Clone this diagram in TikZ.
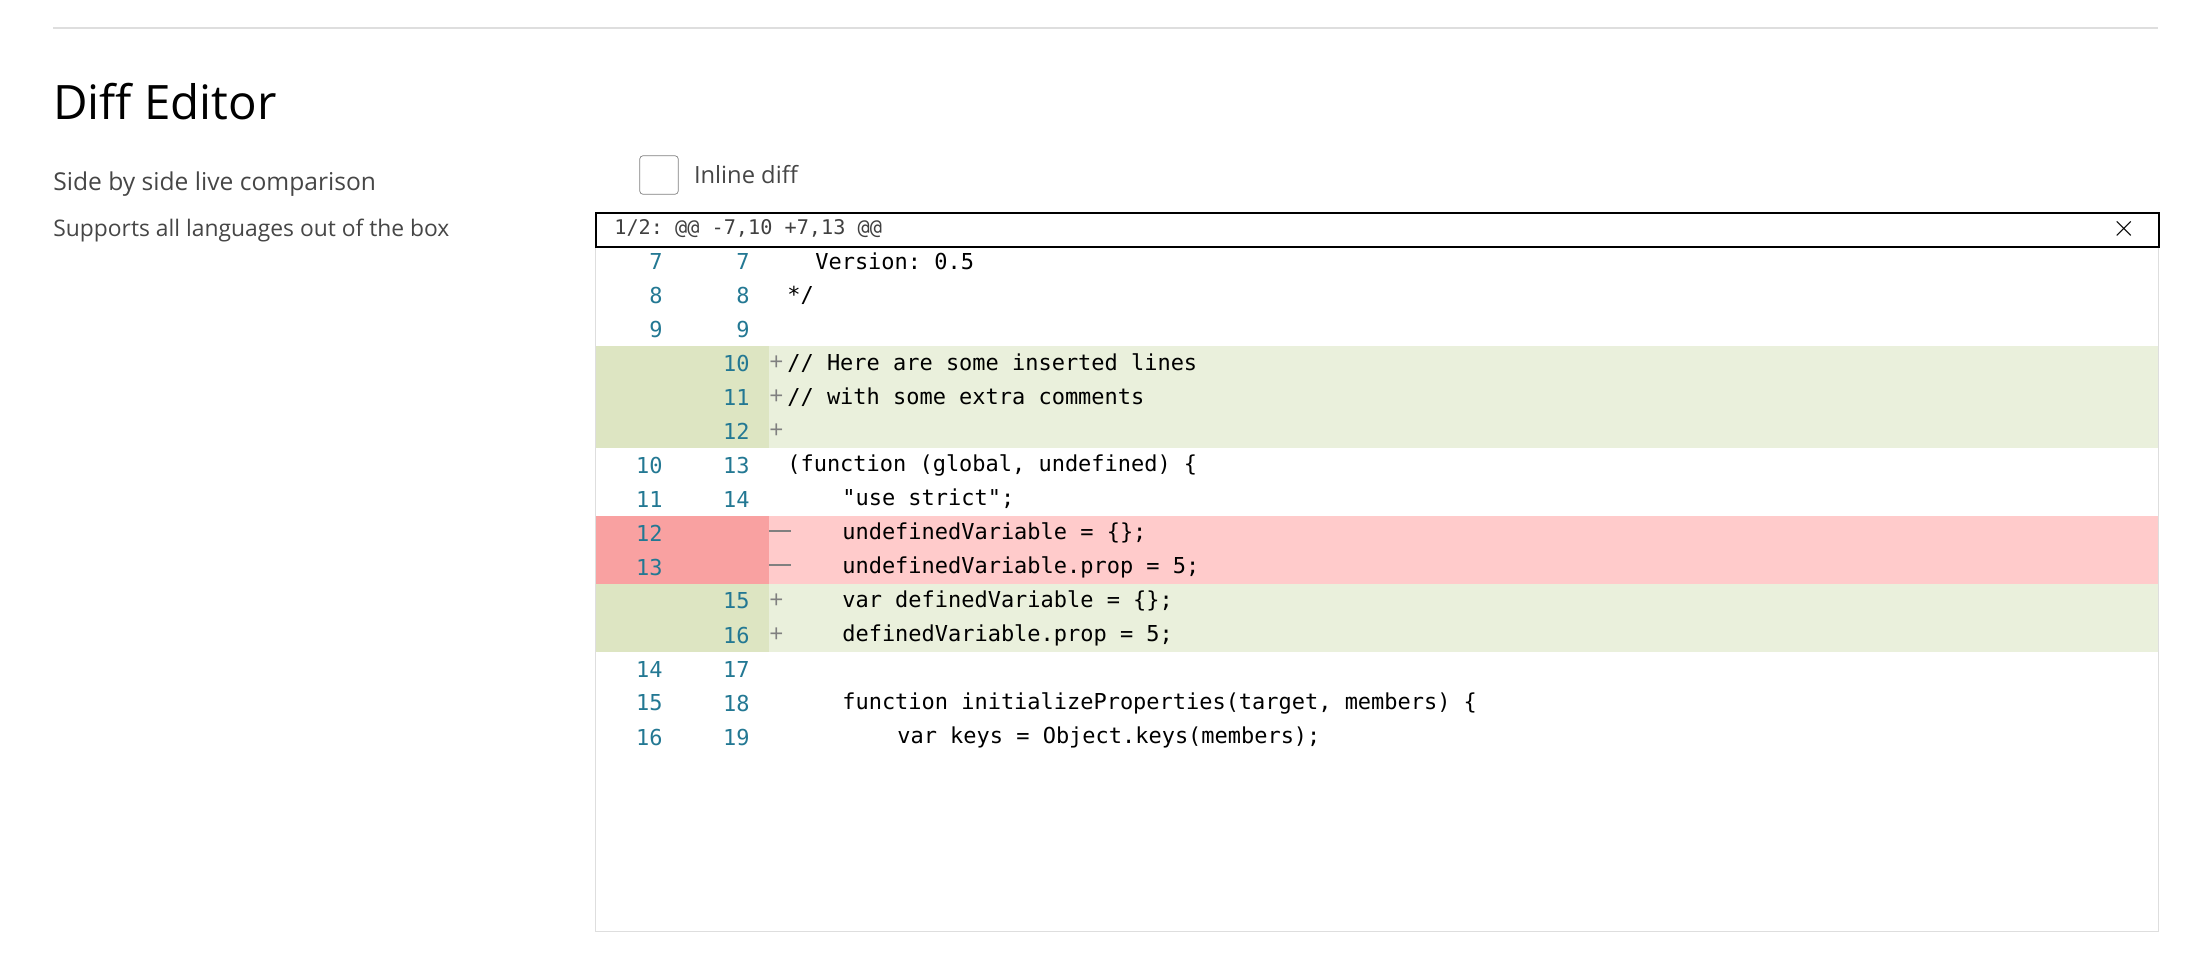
\documentclass[tikz,border=0pt]{standalone}
\usepackage{fontspec}
\usetikzlibrary{positioning}
\setmainfont{Open Sans}
\setmonofont{DejaVu Sans Mono}
\definecolor{lineno}{RGB}{35,120,147}
\definecolor{addrow}{RGB}{234,240,220}
\definecolor{addgutter}{RGB}{221,229,194}
\definecolor{delrow}{RGB}{255,203,203}
\definecolor{delgutter}{RGB}{249,161,161}
\definecolor{framegray}{RGB}{222,222,222}
\definecolor{labeltext}{RGB}{70,70,70}

\tikzset{
  num/.style={anchor=east, inner sep=0pt, text=lineno, font=\ttfamily\fontsize{12.5}{14}\selectfont},
  code/.style={anchor=west, inner sep=0pt, font=\ttfamily\fontsize{12.5}{14}\selectfont},
  sign/.style={anchor=west, inner sep=0pt, text=gray, font=\fontsize{14}{16}\selectfont},
  label/.style={anchor=west, inner sep=0pt, text=labeltext}
}

\begin{document}
\begin{tikzpicture}[x=0.02cm, y=-0.02cm]
    \useasboundingbox (0,0) rectangle (2201,978);

    % page header
    \draw[framegray, line width=1.5] (53,28) -- (2158,28);
    \node[label, text=black, font=\fontsize{27}{30}\selectfont] (title) at (53,102) {Diff Editor};
    \node[label, font=\fontsize{14}{16}\selectfont] (side) at (53,184) {Side by side live comparison};
    \node[label, font=\fontsize{13}{15}\selectfont] (langs) at (53,230) {Supports all languages out of the box};

    % inline diff checkbox
    \node[draw=gray, rounded corners=2, minimum size=22, inner sep=0pt] (check) at (659,175) {};
    \node[label, font=\fontsize{13.5}{15}\selectfont, right=0.3cm of check] (inline) {Inline diff};

    % inserted and deleted row backgrounds
    \fill[addrow] (769,346) rectangle (2158,448);
    \fill[addgutter] (596,346) rectangle (769,448);
    \fill[delrow] (769,516) rectangle (2158,584);
    \fill[delgutter] (596,516) rectangle (769,584);
    \fill[addrow] (769,584) rectangle (2158,652);
    \fill[addgutter] (596,584) rectangle (769,652);

    % editor frame and hunk header
    \draw[framegray] (595,212) rectangle (2158,931);
    \node[draw=black, line width=1.2, anchor=north west, minimum width=31.26cm, minimum height=0.68cm, inner sep=0pt] (hunk) at (595,212) {};
    \node[code, text=darkgray, font=\ttfamily\fontsize{11.5}{13}\selectfont] (hunktext) at (614,229) {1/2: @@ -7,10 +7,13 @@};
    \node[inner sep=0pt, font=\fontsize{18}{18}\selectfont] (close) at (2124,229) {$\times$};

    % line numbers
    \foreach \i/\o/\n in {0/7/7, 1/8/8, 2/9/9, 3/{}/10, 4/{}/11, 5/{}/12, 6/10/13, 7/11/14,
                          8/12/{}, 9/13/{}, 10/{}/15, 11/{}/16, 12/14/17, 13/15/18, 14/16/19} {
        \node[num] (old\i) at (663,{261+34*\i}) {\o};
        \node[num] (new\i) at (750,{261+34*\i}) {\n};
    }

    % change markers
    \foreach \i in {3,4,5,10,11}
        \node[sign] (plus\i) at (769,{261+34*\i}) {+};
    \foreach \i in {8,9}
        \node[sign] (minus\i) at (769,{261+34*\i}) {\rule[0.3ex]{0.9em}{0.7pt}};

    % code lines
    \node[code] (c0) at (815,261) {Version: 0.5};
    \node[code] (c1) at (787,295) {*/};
    \node[code] (c3) at (787,363) {// Here are some inserted lines};
    \node[code] (c4) at (787,397) {// with some extra comments};
    \node[code] (c6) at (787,465) {(function (global, undefined) \{};
    \node[code] (c7) at (842,499) {"use strict";};
    \node[code] (c8) at (842,533) {undefinedVariable = \{\};};
    \node[code] (c9) at (842,567) {undefinedVariable.prop = 5;};
    \node[code] (c10) at (842,601) {var definedVariable = \{\};};
    \node[code] (c11) at (842,635) {definedVariable.prop = 5;};
    \node[code] (c13) at (842,703) {function initializeProperties(target, members) \{};
    \node[code] (c14) at (897,737) {var keys = Object.keys(members);};
\end{tikzpicture}
\end{document}
